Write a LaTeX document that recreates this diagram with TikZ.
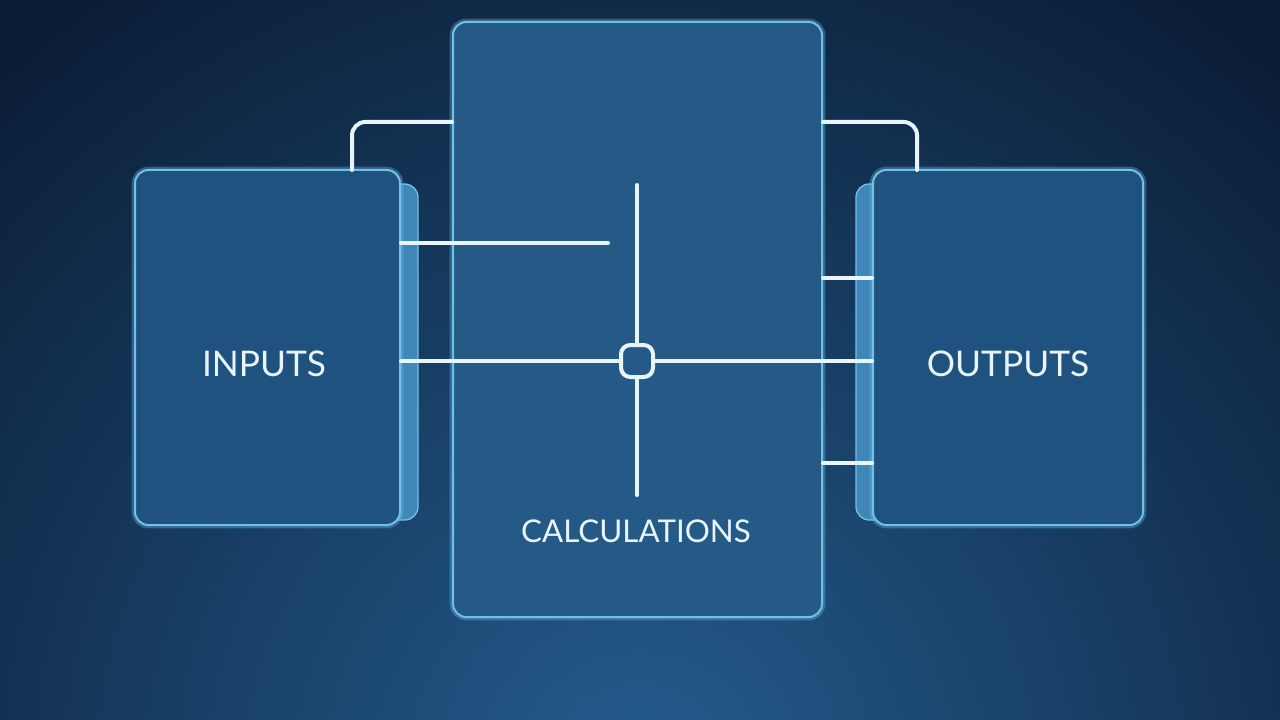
\documentclass[tikz,border=0pt]{standalone}
\usepackage{fontspec}
\setmainfont{Lato}
\usetikzlibrary{calc}

\definecolor{bgDark}{RGB}{11,30,55}
\definecolor{bgLight}{RGB}{36,92,142}
\definecolor{boxFill}{RGB}{31,82,127}
\definecolor{calcFill}{RGB}{37,89,134}
\definecolor{sideFill}{RGB}{64,134,184}
\definecolor{edgeBlue}{RGB}{112,192,232}
\definecolor{wireWhite}{RGB}{232,245,252}

\tikzset{every picture/.style={line width=0.75pt}}
\tikzset{
	glowbox/.style={rounded corners=10pt, fill=#1, draw=edgeBlue, line width=1.5pt,
		preaction={draw=edgeBlue, draw opacity=0.35, line width=5pt}},
	sidebox/.style={rounded corners=10pt, fill=sideFill, draw=edgeBlue, line width=1pt},
	wire/.style={draw=wireWhite, line width=3pt, line cap=round},
	label/.style={text=wireWhite, inner sep=0pt}}

\begin{document}
\begin{tikzpicture}[x=0.75pt,y=0.75pt,yscale=-1,xscale=1]
	%Background
	\useasboundingbox (0,0) rectangle (1280,720);
	\fill[bgDark] (0,0) rectangle (1280,720);
	\begin{scope}
		\clip (0,0) rectangle (1280,720);
		\shade[inner color=bgLight, outer color=bgDark] (640,780) circle (950);
	\end{scope}

	%Shape: Side panels
	\draw[sidebox] (160,184) rectangle (418,520);
	\draw[sidebox] (856,184) rectangle (1112,520);

	%Shape: Boxes
	\node[glowbox=boxFill, minimum width=198.75pt, minimum height=266.25pt] (inputs) at (267.5,347.5) {};
	\node[glowbox=calcFill, minimum width=276.75pt, minimum height=446.25pt] (calc) at (637.5,319.5) {};
	\node[glowbox=boxFill, minimum width=202.5pt, minimum height=266.25pt] (outputs) at (1008,347.5) {};

	%Shape: Hub
	\node[draw=wireWhite, fill=calcFill, line width=3pt, rounded corners=7pt, minimum size=24pt] (hub) at (637,361) {};

	%Coordinates
	\coordinate (inTop) at (352,170);
	\coordinate (outTop) at (917,170);
	\coordinate (bracket) at (0,122);
	\coordinate (upperEnd) at (608,243);
	\coordinate (spineTop) at (637,185);
	\coordinate (spineBot) at (637,495);
	\coordinate (tapA) at (0,278);
	\coordinate (tapB) at (0,463);

	%Straight Lines
	\draw[wire, rounded corners=10pt] (inTop) |- (calc.west |- bracket);
	\draw[wire, rounded corners=10pt] (calc.east |- bracket) -| (outTop);
	\draw[wire] (inputs.east |- upperEnd) -- (upperEnd);
	\draw[wire] (spineTop) -- (hub.north);
	\draw[wire] (hub.south) -- (spineBot);
	\draw[wire] (inputs.east |- hub) -- (hub.west);
	\draw[wire] (hub.east) -- (outputs.west |- hub);
	\draw[wire] (calc.east |- tapA) -- (outputs.west |- tapA);
	\draw[wire] (calc.east |- tapB) -- (outputs.west |- tapB);

	% Text Node
	\node[label, font=\fontsize{26.5}{30}\selectfont] (inText) at (264,364) {INPUTS};
	% Text Node
	\node[label, font=\fontsize{26.5}{30}\selectfont] (outText) at (1008,364) {OUTPUTS};
	% Text Node
	\node[label, font=\fontsize{23.5}{26}\selectfont] (calcText) at (636,531) {CALCULATIONS};
\end{tikzpicture}
\end{document}
